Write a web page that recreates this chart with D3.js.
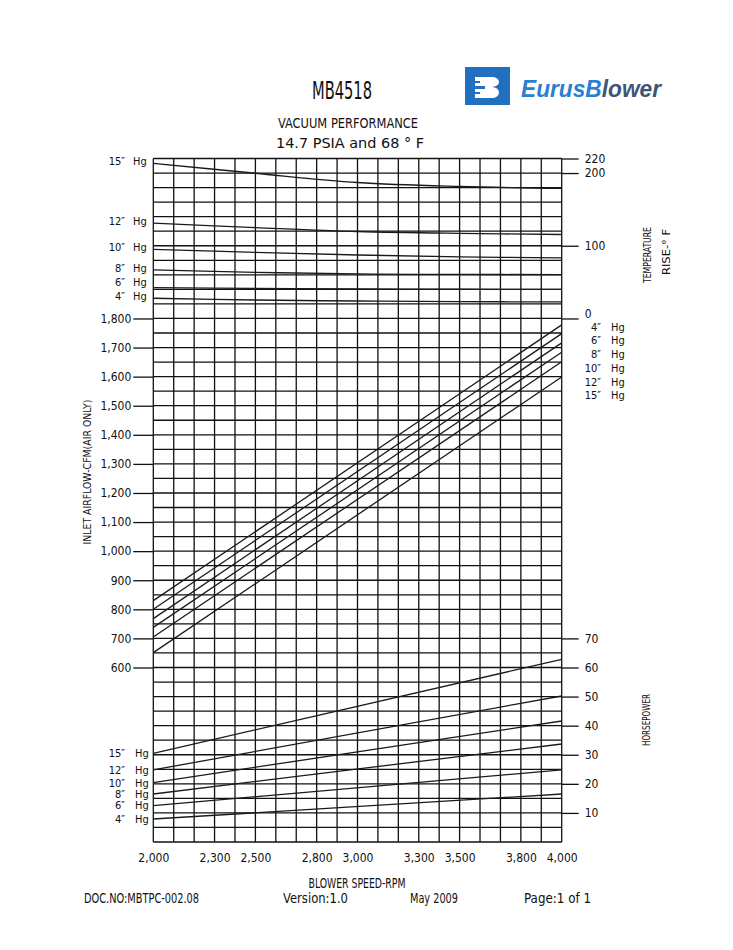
<!DOCTYPE html>
<html><head><meta charset="utf-8">
<script src="https://cdn.jsdelivr.net/npm/d3@7"></script>
<style>
html,body{margin:0;padding:0;background:#fff;}
svg text{font-family:"Liberation Sans Narrow","DejaVu Sans Condensed","Arial Narrow",sans-serif;fill:#111;}
</style></head>
<body>
<svg id="chart" width="733" height="950"></svg>
<script>
// ---- data ----
const vacuumLabels = ["4″", "6″", "8″", "10″", "12″", "15″"];
const rpmTemp = [2000, 2500, 3000, 3500, 4000];
const tempRise4 = [27.8, 25.4, 24.0, 23.2, 22.7];
const tempRise6 = [42.4, 41.3, 40.6, 40.2, 40.0];
const tempRise8 = [66.7, 63.5, 61.2, 60.6, 60.3];
const tempRise10 = [95.0, 91.0, 87.3, 84.8, 83.2];
const tempRise12 = [131.0, 125.0, 119.6, 117.0, 115.5];
const tempRise15 = [213.4, 199.7, 187.0, 181.5, 178.8];
const rpmLine = [2000, 4000];
const cfm4 = [830, 1778];
const cfm6 = [800, 1748];
const cfm8 = [768, 1716];
const cfm10 = [738, 1684];
const cfm12 = [705, 1651];
const cfm15 = [651, 1599];
const hp4 = [7.9, 16.5];
const hp6 = [12.5, 24.8];
const hp8 = [16.5, 33.7];
const hp10 = [20.4, 41.6];
const hp12 = [24.8, 50.2];
const hp15 = [30.5, 62.8];
const rpmTicks = [2000, 2300, 2500, 2800, 3000, 3300, 3500, 3800, 4000];
const cfmTicks = [600, 700, 800, 900, 1000, 1100, 1200, 1300, 1400, 1500, 1600, 1700, 1800];
const tempTicks = [0, 100, 200, 220];
const hpTicks = [10, 20, 30, 40, 50, 60, 70];

const tempSeries = [tempRise4, tempRise6, tempRise8, tempRise10, tempRise12, tempRise15];
const cfmSeries = [cfm4, cfm6, cfm8, cfm10, cfm12, cfm15];
const hpSeries = [hp4, hp6, hp8, hp10, hp12, hp15];

// ---- scales ----
const svg = d3.select("#chart");
const x = d3.scaleLinear().domain([2000, 4000]).range([153.3, 561.7]);
const y = d3.scaleLinear().domain([0, 2350]).range([842, 158.5]);
const yT = d3.scaleLinear().domain([0, 220]).range([y(1800), y(2350)]);
const yH = d3.scaleLinear().domain([0, 80]).range([y(0), y(800)]);

// ---- header ----
svg.append("text").attr("x", 342).attr("y", 99).attr("text-anchor", "middle")
  .style("font-size", "25px").attr("textLength", 60).attr("lengthAdjust", "spacingAndGlyphs").text("MB4518");
const logo = svg.append("g");
logo.append("rect").attr("x", 465).attr("y", 67).attr("width", 45).attr("height", 38).attr("fill", "#2170c0");
// stylised mark
logo.append("path").attr("fill", "#fff").attr("d",
  "M475,77 h17 a7,5 0 0 1 0,10 a7,5.5 0 0 1 0,11 h-17 v-4 h5 v-2 h-5 v-3 h10 v-3 h-10 v-3 h5 v-2 h-5 z" +
  "M485,80 h6 a2,2 0 0 1 0,4 h-6 z M485,90 h7 a2.3,2.3 0 0 1 0,4.6 h-7 z");
const lt = svg.append("text").attr("x", 521).attr("y", 97).style("font-family", "'Liberation Sans',Arial,sans-serif")
  .style("font-size", "23px").style("font-weight", "bold").style("font-style", "italic")
  .attr("textLength", 140).attr("lengthAdjust", "spacingAndGlyphs");
lt.append("tspan").style("fill", "#2b7fd2").text("Eurus");
lt.append("tspan").style("fill", "#2b7fd2").text("B");
lt.append("tspan").style("fill", "#3e5676").text("lower");

svg.append("text").attr("x", 348).attr("y", 128).attr("text-anchor", "middle")
  .style("font-size", "14px").attr("textLength", 140).attr("lengthAdjust", "spacingAndGlyphs").text("VACUUM PERFORMANCE");
svg.append("text").attr("x", 350).attr("y", 148).attr("text-anchor", "middle")
  .style("font-size", "14px").attr("textLength", 148).attr("lengthAdjust", "spacingAndGlyphs").text("14.7 PSIA and 68 ° F");

// ---- grid ----
const grid = svg.append("g").attr("stroke", "#111").attr("stroke-width", 1.3);
grid.selectAll("line.h").data(d3.range(0, 2351, 50)).join("line")
  .attr("x1", x(2000)).attr("x2", x(4000)).attr("y1", d => y(d)).attr("y2", d => y(d));
grid.selectAll("line.v").data(d3.range(2000, 4001, 100)).join("line").attr("class", "v")
  .attr("x1", d => x(d)).attr("x2", d => x(d)).attr("y1", y(0)).attr("y2", y(2350));

// ---- axes ----
function styleAxis(g) {
  g.select(".domain").remove();
  g.selectAll(".tick line").attr("stroke", "#111").attr("stroke-width", 1.3);
  g.selectAll(".tick text").style("font-size", "12px").attr("fill", "#111");
}
svg.append("g").attr("transform", `translate(${x(2000)},0)`)
  .call(d3.axisLeft(y).tickValues(cfmTicks).tickSize(20).tickPadding(2).tickFormat(d3.format(",")))
  .call(styleAxis);
svg.append("g").attr("transform", `translate(${x(4000)},0)`)
  .call(d3.axisRight(yT).tickValues(tempTicks).tickSize(17).tickPadding(6))
  .call(styleAxis)
  .call(g => g.selectAll(".tick text").attr("dy", d => d === 0 ? "-0.05em" : "0.32em"));
svg.append("g").attr("transform", `translate(${x(4000)},0)`)
  .call(d3.axisRight(yH).tickValues(hpTicks).tickSize(17).tickPadding(6))
  .call(styleAxis);
svg.append("g").attr("transform", `translate(0,${y(0)})`)
  .call(d3.axisBottom(x).tickValues(rpmTicks).tickSize(0).tickPadding(11).tickFormat(d3.format(",")))
  .call(styleAxis);

// ---- series ----
const tLine = d3.line().x((d, i) => x(rpmTemp[i])).y(d => yT(d)).curve(d3.curveCatmullRom.alpha(0.5));
const cLine = d3.line().x((d, i) => x(rpmLine[i])).y(d => y(d));
const hLine = d3.line().x((d, i) => x(rpmLine[i])).y(d => yH(d));
const series = svg.append("g").attr("fill", "none").attr("stroke", "#1a1a1a").attr("stroke-width", 1.3);
series.selectAll("path.t").data(tempSeries).join("path").attr("class", "t").attr("d", tLine);
series.selectAll("path.c").data(cfmSeries).join("path").attr("class", "c").attr("d", cLine);
series.selectAll("path.h").data(hpSeries).join("path").attr("class", "h").attr("d", hLine);

// ---- series labels ----
function hgLabel(g, yy, label, numRight, hgX) {
  g.append("text").attr("x", numRight).attr("y", yy).attr("dy", "0.35em").attr("text-anchor", "end")
    .style("font-size", "11px").text(label);
  g.append("text").attr("x", hgX).attr("y", yy).attr("dy", "0.35em")
    .style("font-size", "11px").text("Hg");
}
const labG = svg.append("g");
// temperature labels, dodged upward from the bottom
let prev = Infinity;
const tY = [];
for (let i = 0; i < tempSeries.length; i++) {
  const yy = Math.min(yT(tempSeries[i][0]) - 2, prev - 14);
  tY.push(yy); prev = yy;
}
tY.forEach((yy, i) => hgLabel(labG, yy, vacuumLabels[i], 125, 133));
// horsepower labels at line starts
hpSeries.forEach((s, i) => hgLabel(labG, yH(s[0]), vacuumLabels[i], 125, 135));
// cfm labels on the right
cfmSeries.forEach((s, i) => hgLabel(labG, y(cfm4[1]) + 2 + i * 13.7, vacuumLabels[i], 601, 611));

// ---- axis titles ----
svg.append("text").attr("transform", "translate(91,472) rotate(-90)").attr("text-anchor", "middle")
  .style("font-size", "11px").attr("textLength", 145).attr("lengthAdjust", "spacingAndGlyphs")
  .text("INLET AIRFLOW-CFM(AIR ONLY)");
svg.append("text").attr("transform", "translate(651,255) rotate(-90)").attr("text-anchor", "middle")
  .style("font-size", "11px").attr("textLength", 56).attr("lengthAdjust", "spacingAndGlyphs").text("TEMPERATURE");
svg.append("text").attr("transform", "translate(670,252) rotate(-90)").attr("text-anchor", "middle")
  .style("font-size", "11px").attr("textLength", 46).attr("lengthAdjust", "spacingAndGlyphs").text("RISE-° F");
svg.append("text").attr("transform", "translate(650,720) rotate(-90)").attr("text-anchor", "middle")
  .style("font-size", "11px").attr("textLength", 52).attr("lengthAdjust", "spacingAndGlyphs").text("HORSEPOWER");
svg.append("text").attr("x", 357).attr("y", 888).attr("text-anchor", "middle")
  .style("font-size", "14px").attr("textLength", 97).attr("lengthAdjust", "spacingAndGlyphs").text("BLOWER SPEED-RPM");

// ---- footer ----
const foot = [["DOC.NO:MBTPC-002.08", 84, 115], ["Version:1.0", 283, 65], ["May 2009", 410, 48], ["Page:1 of 1", 524, 67]];
foot.forEach(f => svg.append("text").attr("x", f[1]).attr("y", 903).style("font-size", "14px")
  .attr("textLength", f[2]).attr("lengthAdjust", "spacingAndGlyphs").text(f[0]));
</script>
</body></html>
